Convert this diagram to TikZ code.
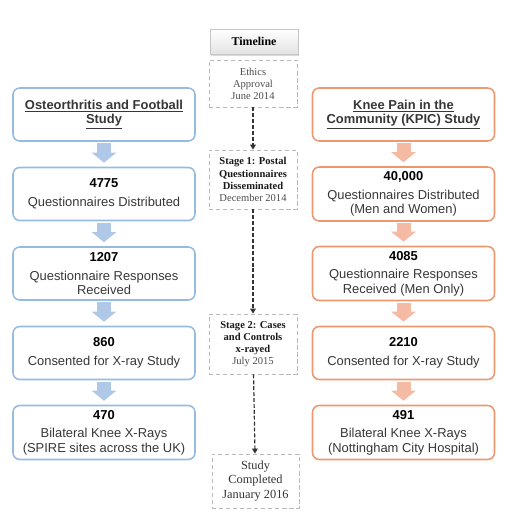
\documentclass[tikz,border=0pt]{standalone}
\usepackage{fontspec}
\setmainfont{Liberation Sans}
\newfontfamily\tlfont{Liberation Serif}
\usetikzlibrary{arrows.meta,shadows}

\definecolor{oablue}{RGB}{150,187,226}
\definecolor{oablueArrow}{RGB}{176,200,231}
\definecolor{kpicorange}{RGB}{238,152,112}
\definecolor{kpicorangeArrow}{RGB}{244,186,164}
\definecolor{boxtext}{RGB}{55,55,55}

\tikzset{
	studybox/.style={draw, rounded corners=0.17cm, line width=1.1pt, minimum width=4.55cm, minimum height=1.325cm, align=center, text=boxtext, fill=white, font=\fontsize{9.2}{10.2}\selectfont},
	oabox/.style={studybox, draw=oablue},
	kpicbox/.style={studybox, draw=kpicorange},
	flowarrow/.style={line width=0.35cm, -{Triangle[width=0.6cm,length=0.25cm]}, shorten <=0.04cm, shorten >=0.1cm},
	tlhead/.style={draw=gray!45, top color=white, bottom color=gray!22, minimum width=2.2cm, minimum height=0.625cm, font=\tlfont\bfseries\fontsize{8.5}{10}\selectfont, drop shadow={opacity=0.3, shadow xshift=0.02cm, shadow yshift=-0.05cm}},
	tlstep/.style={draw=gray!55, line width=0.6pt, dash pattern=on 3pt off 2pt, minimum width=2.2cm, align=center, text=black!70, font=\tlfont\fontsize{7.5}{8.6}\selectfont},
	tlarrow/.style={draw=black!80, line width=0.85pt, dash pattern=on 2.8pt off 1.4pt, -{Triangle[width=4pt,length=3.5pt]}}
}

\begin{document}
\begin{tikzpicture}
	\useasboundingbox (0,0) rectangle (13.125,-12.875);

	% timeline
	\node[tlhead] (timeline) at (6.35,-1.0375) {Timeline};
	\node[tlstep, minimum height=1.175cm] (ethics) at (6.325,-2.0875) {Ethics\\Approval\\June 2014};
	\node[tlstep, minimum height=1.475cm] (stage1) at (6.325,-4.4875) {\textcolor{black!90}{\bfseries Stage 1: Postal}\\\textcolor{black!90}{\bfseries Questionnaires}\\\textcolor{black!90}{\bfseries Disseminated}\\December 2014};
	\node[tlstep, minimum height=1.5cm] (stage2) at (6.325,-8.6) {\textcolor{black!90}{\bfseries Stage 2: Cases}\\\textcolor{black!90}{\bfseries and Controls}\\\textcolor{black!90}{\bfseries x-rayed}\\July 2015};
	\node[tlstep, minimum width=2.175cm, minimum height=1.35cm, text=black!80, font=\tlfont\fontsize{8.8}{10.6}\selectfont] (done) at (6.3875,-12.025) {Study\\Completed\\January 2016};

	\draw[tlarrow] (ethics) -- (stage1);
	\draw[tlarrow] (stage1) -- (stage2);
	\draw[tlarrow] (stage2) -- (done);

	% osteoarthritis and football
	\node[oabox] (oa1) at (2.6,-2.8625) {\textbf{\underline{Osteorthritis and Football}}\\\textbf{\underline{Study}}};
	\node[oabox] (oa2) at (2.6,-4.85) {\textcolor{black}{\bfseries 4775}\\[3pt]Questionnaires Distributed};
	\node[oabox] (oa3) at (2.6,-6.8375) {\textcolor{black}{\bfseries 1207}\\[3pt]Questionnaire Responses\\Received};
	\node[oabox] (oa4) at (2.6,-8.825) {\textcolor{black}{\bfseries 860}\\[3pt]Consented for X-ray Study};
	\node[oabox] (oa5) at (2.6,-10.8125) {\textcolor{black}{\bfseries 470}\\[3pt]Bilateral Knee X-Rays\\(SPIRE sites across the UK)};

	\foreach \a/\b in {oa1/oa2,oa2/oa3,oa3/oa4,oa4/oa5}
		\draw[flowarrow, draw=oablueArrow, fill=oablueArrow] (\a.south) -- (\b.north);

	% knee pain in the community
	\node[kpicbox] (kp1) at (10.0875,-2.8625) {\textbf{\underline{Knee Pain in the}}\\\textbf{\underline{Community (KPIC) Study}}};
	\node[kpicbox] (kp2) at (10.0875,-4.85) {\textcolor{black}{\bfseries 40,000}\\[3pt]Questionnaires Distributed\\(Men and Women)};
	\node[kpicbox] (kp3) at (10.0875,-6.8375) {\textcolor{black}{\bfseries 4085}\\[3pt]Questionnaire Responses\\Received (Men Only)};
	\node[kpicbox] (kp4) at (10.0875,-8.825) {\textcolor{black}{\bfseries 2210}\\[3pt]Consented for X-ray Study};
	\node[kpicbox] (kp5) at (10.0875,-10.8125) {\textcolor{black}{\bfseries 491}\\[3pt]Bilateral Knee X-Rays\\(Nottingham City Hospital)};

	\foreach \a/\b in {kp1/kp2,kp2/kp3,kp3/kp4,kp4/kp5}
		\draw[flowarrow, draw=kpicorangeArrow, fill=kpicorangeArrow] (\a.south) -- (\b.north);
\end{tikzpicture}
\end{document}
